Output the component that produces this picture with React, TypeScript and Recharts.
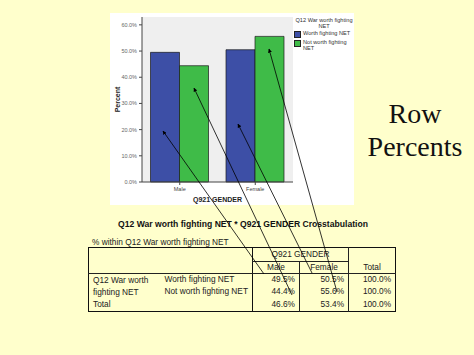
import React from "react";
import { BarChart, Bar, XAxis, YAxis, CartesianGrid, Legend } from "recharts";

// chart + table values
const genders = ["Male", "Female"];
const worthFighting = [49.5, 50.5];
const notWorthFighting = [44.4, 55.6];
const totalRow = [46.6, 53.4];
const rowTotals = [100.0, 100.0, 100.0];
const yTicks = [0, 10, 20, 30, 40, 50, 60];
const seriesNames = ["Worth fighting NET", "Not worth fighting NET"];

const BLUE = "#3D4FA6";
const GREEN = "#3FBB48";
const SANS = "'Liberation Sans', Arial, sans-serif";

// arrows from table cells to bars (annotation overlay)
const arrows = [
  { x1: 264, y1: 274, x2: 163, y2: 131 },
  { x1: 292, y1: 295, x2: 194, y2: 88 },
  { x1: 312, y1: 273, x2: 238, y2: 124 },
  { x1: 337, y1: 292, x2: 269, y2: 49 },
];

const data = genders.map((g, i) => ({
  gender: g,
  worth: worthFighting[i],
  notWorth: notWorthFighting[i],
}));

const pct = (v: number) => `${v.toFixed(1)}%`;

const LegendBox = ({ payload }: any) => {
  // keep series order (legend sorts by name otherwise)
  const items = [...(payload || [])].sort(
    (a: any, b: any) => seriesNames.indexOf(a.value) - seriesNames.indexOf(b.value)
  );
  return (
    <div style={{ fontFamily: SANS, fontSize: 5.6, color: "#333", lineHeight: "5.6px" }}>
      <div style={{ textAlign: "center", marginBottom: 2 }}>
        Q12 War worth fighting
        <br />
        NET
      </div>
      {items.map((p: any) => (
        <div key={p.value} style={{ display: "flex", alignItems: "flex-start", marginBottom: 2 }}>
          <div
            style={{
              width: 5,
              height: 5,
              background: p.color,
              border: "0.5px solid #222",
              marginRight: 2,
              flexShrink: 0,
            }}
          />
          <span>{p.value}</span>
        </div>
      ))}
    </div>
  );
};

const PercentLabel = ({ viewBox }: any) => {
  const x = viewBox.x + 10;
  const y = viewBox.y + viewBox.height / 2;
  return (
    <text
      x={x}
      y={y}
      transform={`rotate(-90 ${x} ${y})`}
      textAnchor="middle"
      fontFamily={SANS}
      fontSize={7}
      fontWeight="bold"
      fill="#222"
    >
      Percent
    </text>
  );
};

const cell: React.CSSProperties = { padding: "0 4px", whiteSpace: "nowrap" };
const num: React.CSSProperties = { ...cell, textAlign: "right" };
const thick = "1.5px solid #111";
const thin = "1px solid #222";

export default function App() {
  return (
    <div
      style={{
        position: "fixed",
        left: 0,
        top: 0,
        width: 474,
        height: 355,
        background: "#FFFFCC",
        overflow: "hidden",
      }}
    >
      {/* chart panel */}
      <div style={{ position: "absolute", left: 110, top: 13, width: 244, height: 192, background: "#fff" }}>
        <BarChart
          width={244}
          height={192}
          data={data}
          margin={{ top: 4, right: 61, bottom: 0, left: 0 }}
          barCategoryGap={8.5}
          barGap={0}
        >
          <CartesianGrid fill="#EFEFEF" horizontal={false} vertical={false} />
          <XAxis
            xAxisId="top"
            orientation="top"
            dataKey="gender"
            height={0}
            tick={false}
            tickLine={false}
            axisLine={{ stroke: "#C8C8C8" }}
          />
          <YAxis
            yAxisId="right"
            orientation="right"
            width={0}
            domain={[0, 63]}
            tick={false}
            tickLine={false}
            axisLine={{ stroke: "#C8C8C8" }}
          />
          <XAxis
            dataKey="gender"
            height={23}
            tickSize={3}
            axisLine={{ stroke: "#444" }}
            tickLine={{ stroke: "#444" }}
            tick={{ fontSize: 5.5, fill: "#444", fontFamily: SANS }}
            label={{
              value: "Q921 GENDER",
              position: "insideBottom",
              offset: 3,
              style: { fontSize: 7, fontWeight: "bold", fill: "#222", fontFamily: SANS },
            }}
          />
          <YAxis
            width={32}
            domain={[0, 63]}
            ticks={yTicks}
            tickFormatter={pct}
            tickSize={3}
            axisLine={{ stroke: "#444" }}
            tickLine={{ stroke: "#444" }}
            tick={{ fontSize: 5.5, fill: "#666", fontFamily: SANS }}
            label={<PercentLabel />}
          />
          <Legend
            layout="horizontal"
            verticalAlign="middle"
            align="center"
            content={<LegendBox />}
            wrapperStyle={{ top: 5, left: 184, width: 60 }}
          />
          <Bar dataKey="worth" name={seriesNames[0]} fill={BLUE} stroke="#1a1a1a" strokeWidth={0.7} isAnimationActive={false} />
          <Bar dataKey="notWorth" name={seriesNames[1]} fill={GREEN} stroke="#1a1a1a" strokeWidth={0.7} isAnimationActive={false} />
        </BarChart>
      </div>

      {/* side caption */}
      <div
        style={{
          position: "absolute",
          left: 356,
          top: 97,
          width: 118,
          textAlign: "center",
          fontFamily: "'Liberation Serif', 'Times New Roman', serif",
          fontSize: 28,
          lineHeight: "33px",
          color: "#111",
        }}
      >
        Row
        <br />
        Percents
      </div>

      {/* crosstab */}
      <div
        style={{
          position: "absolute",
          left: 80,
          top: 219,
          width: 326,
          textAlign: "center",
          fontFamily: SANS,
          fontSize: 8.6,
          fontWeight: "bold",
          color: "#111",
        }}
      >
        Q12 War worth fighting NET * Q921 GENDER Crosstabulation
      </div>
      <div style={{ position: "absolute", left: 92, top: 237, fontFamily: SANS, fontSize: 8.3, color: "#222" }}>
        % within Q12 War worth fighting NET
      </div>
      <table
        style={{
          position: "absolute",
          left: 88,
          top: 247,
          width: 307,
          borderCollapse: "collapse",
          tableLayout: "fixed",
          fontFamily: SANS,
          fontSize: 8.3,
          color: "#222",
          border: thick,
          lineHeight: "11px",
        }}
      >
        <colgroup>
          <col style={{ width: 72 }} />
          <col style={{ width: 92 }} />
          <col style={{ width: 47 }} />
          <col style={{ width: 49 }} />
          <col style={{ width: 47 }} />
        </colgroup>
        <tbody>
          <tr style={{ height: 14 }}>
            <td colSpan={2} rowSpan={2} style={{ borderBottom: thin }} />
            <td colSpan={2} style={{ ...cell, textAlign: "center", borderLeft: thick, borderBottom: thin }}>
              Q921 GENDER
            </td>
            <td rowSpan={2} style={{ ...cell, textAlign: "center", verticalAlign: "bottom", borderLeft: thin, borderBottom: thin }}>
              Total
            </td>
          </tr>
          <tr style={{ height: 12 }}>
            {genders.map((g, i) => (
              <td key={g} style={{ ...cell, textAlign: "center", borderLeft: i === 0 ? thick : thin, borderBottom: thin }}>
                {g}
              </td>
            ))}
          </tr>
          {seriesNames.map((name, r) => (
            <tr key={name} style={{ height: r === 0 ? 11 : 12 }}>
              {r === 0 && (
                <td rowSpan={2} style={{ ...cell, whiteSpace: "normal", verticalAlign: "top", lineHeight: "12px" }}>
                  Q12 War worth fighting NET
                </td>
              )}
              <td style={cell}>{name}</td>
              <td style={{ ...num, borderLeft: thick }}>{pct(r === 0 ? worthFighting[0] : notWorthFighting[0])}</td>
              <td style={{ ...num, borderLeft: thin }}>{pct(r === 0 ? worthFighting[1] : notWorthFighting[1])}</td>
              <td style={{ ...num, borderLeft: thin }}>{pct(rowTotals[r])}</td>
            </tr>
          ))}
          <tr style={{ height: 13 }}>
            <td colSpan={2} style={cell}>Total</td>
            <td style={{ ...num, borderLeft: thick }}>{pct(totalRow[0])}</td>
            <td style={{ ...num, borderLeft: thin }}>{pct(totalRow[1])}</td>
            <td style={{ ...num, borderLeft: thin }}>{pct(rowTotals[2])}</td>
          </tr>
        </tbody>
      </table>

      {/* arrows overlay */}
      <svg width={474} height={355} style={{ position: "absolute", left: 0, top: 0, pointerEvents: "none" }}>
        <defs>
          <marker id="ah" viewBox="0 0 10 10" refX="9" refY="5" markerWidth="5" markerHeight="5" orient="auto">
            <path d="M0,0 L10,5 L0,10 z" fill="#000" />
          </marker>
        </defs>
        {arrows.map((a, i) => (
          <line key={i} x1={a.x1} y1={a.y1} x2={a.x2} y2={a.y2} stroke="#000" strokeWidth={0.8} markerEnd="url(#ah)" />
        ))}
      </svg>
    </div>
  );
}
